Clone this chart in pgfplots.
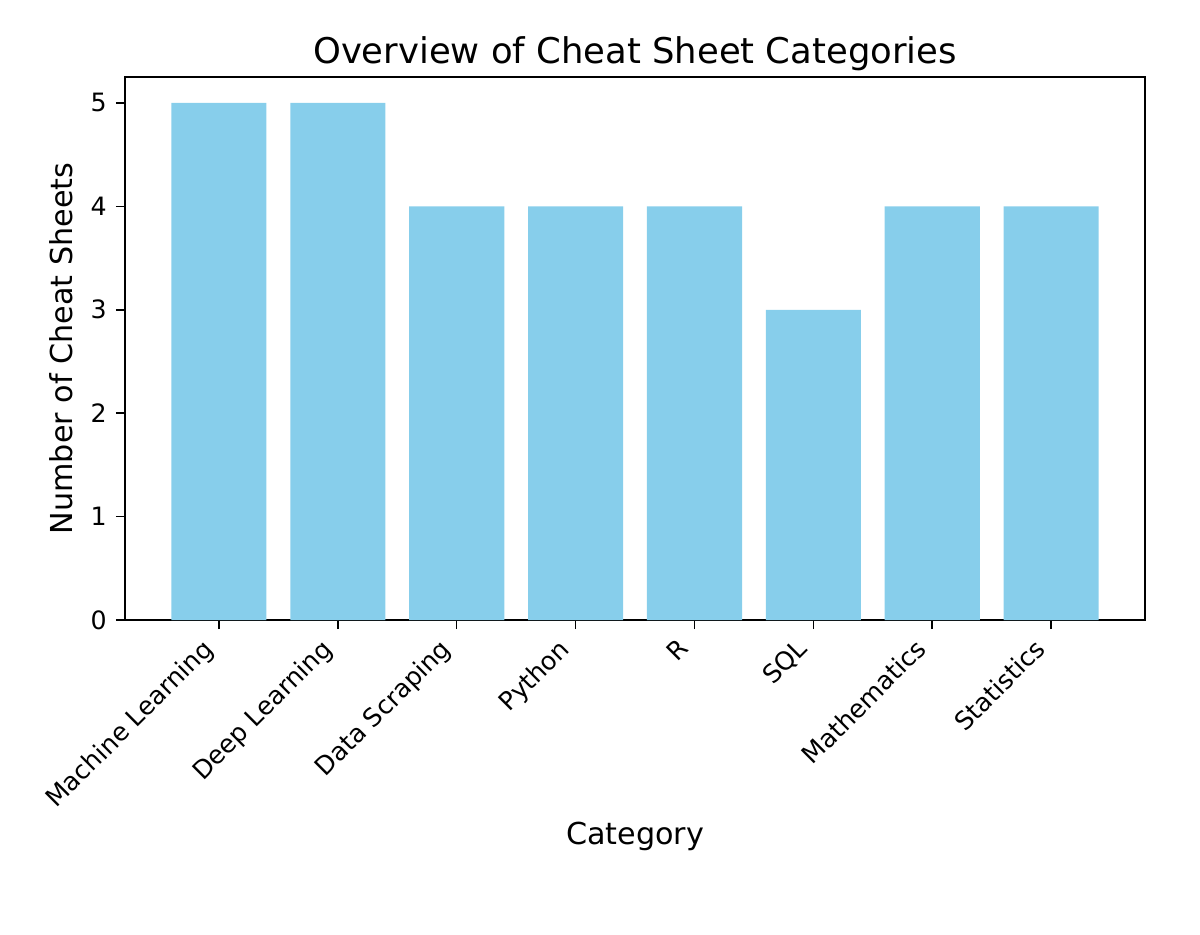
\documentclass[border=0pt]{standalone}
\usepackage{fontspec}
\setmainfont{DejaVu Sans}
\usepackage{pgfplots}
\pgfplotsset{compat=1.18}
\definecolor{skyblue}{HTML}{87CEEB}
\begin{document}
\begin{tikzpicture}
\useasboundingbox (-48pt,-120.6pt) rectangle (412.8pt,238.1pt);
\begin{axis}[
  at={(0,0)}, anchor=south west,
  scale only axis, width=391.7pt, height=208.5pt,
  xmin=-0.79, xmax=7.79, ymin=0, ymax=5.25,
  xtick={0,...,7},
  xticklabels={Machine Learning,Deep Learning,Data Scraping,Python,R,SQL,Mathematics,Statistics},
  xticklabel style={rotate=45, anchor=north east, font=\fontsize{9.7}{11.6}\selectfont, inner sep=0pt, xshift=-6.86pt, yshift=2.9pt},
  ytick={0,1,2,3,4,5},
  yticklabel style={font=\fontsize{9.7}{11.6}\selectfont},
  /pgf/number format/assume math mode=true,
  tick align=outside, major tick length=3.5pt,
  tick style={black, line width=0.6pt},
  xtick pos=bottom, ytick pos=left,
  axis line style={line width=0.6pt},
  title={Overview of Cheat Sheet Categories},
  title style={font=\fontsize{13.6}{16}\selectfont, yshift=-7pt},
  xlabel={Category}, ylabel={Number of Cheat Sheets},
  label style={font=\fontsize{11.6}{14}\selectfont},
  ylabel style={yshift=0pt},
]
\addplot[ybar, bar width=0.8, fill=skyblue, draw=none, bar shift=0pt] coordinates {
(0,5) (1,5) (2,4) (3,4) (4,4) (5,3) (6,4) (7,4)};
\end{axis}
\end{tikzpicture}
\end{document}
